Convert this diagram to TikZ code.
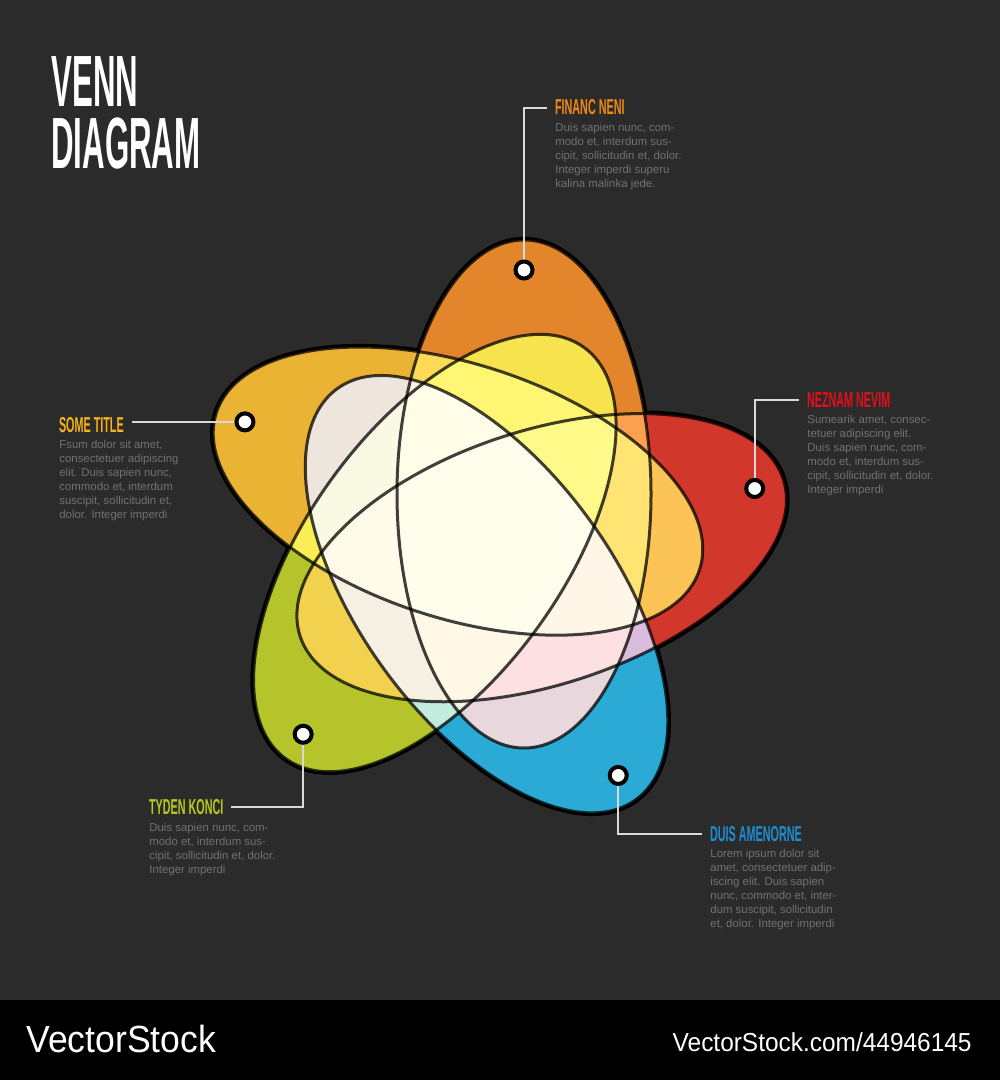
\documentclass[tikz,border=0pt]{standalone}
\usepackage{fontspec}
\setmainfont{Liberation Sans}
\newfontfamily\titlefont[FakeStretch=0.43]{Liberation Sans}
\newfontfamily\headfont[FakeStretch=0.5]{Liberation Sans}
\newfontfamily\markfont[FakeStretch=0.94]{Liberation Sans}
\usetikzlibrary{positioning}

\definecolor{bgdark}{HTML}{2B2B2B}
\definecolor{vgold}{HTML}{EAB334}
\definecolor{vorange}{HTML}{E3852B}
\definecolor{vred}{HTML}{D2372B}
\definecolor{vblue}{HTML}{2AAAD4}
\definecolor{vgreen}{HTML}{B5C42A}
\definecolor{tgold}{HTML}{F8B21C}
\definecolor{torange}{HTML}{F08A14}
\definecolor{tred}{HTML}{E2101A}
\definecolor{tblue}{HTML}{1E8DD4}
\definecolor{tgreen}{HTML}{B6C91C}
\definecolor{bodygrey}{HTML}{727272}

\begin{document}
\begin{tikzpicture}[x=0.5pt, y=0.5pt,
        body/.style={anchor=base west, inner sep=0, align=left, text=bodygrey,
            font=\fontsize{5.7pt}{7pt}\selectfont},
        head/.style={anchor=base west, inner sep=0, outer sep=4pt,
            font=\headfont\bfseries\fontsize{10.8pt}{12pt}\selectfont},
        leader/.style={draw=white!85!black, line width=1pt},
        dot/.style={draw=black, line width=2pt, fill=white}]

        % background and bottom bar
        \fill[bgdark] (0,0) rectangle (1000,-1080);
        \fill[black] (0,-1000) rectangle (1000,-1080);
        \useasboundingbox (0,0) rectangle (1000,-1080);

        % title (placed by its last line)
        \node[anchor=base west, inner sep=0, align=left, white, font=\titlefont\bfseries\fontsize{36.3pt}{31pt}\selectfont] (title) at (51,-169) {VENN\\DIAGRAM};

        % thick outer outline of the five ellipses
        \foreach \ang in {90, 18, -54, -126, 162} {
            \draw[black, line width=3.2pt, shift={(489,-538)}, rotate=\ang-90] (35,44) ellipse [x radius=127, y radius=254];
        }

        % colour fills, screen blended
        \begin{scope}[blend group=screen]
            \foreach \ang/\col in {90/vorange, 18/vred, -54/vblue, -126/vgreen, 162/vgold} {
                \fill[\col, shift={(489,-538)}, rotate=\ang-90] (35,44) ellipse [x radius=127, y radius=254];
            }
        \end{scope}

        % thin inner lines
        \foreach \ang in {90, 18, -54, -126, 162} {
            \draw[black, opacity=0.75, line width=1.5pt, shift={(489,-538)}, rotate=\ang-90] (35,44) ellipse [x radius=127, y radius=254];
        }

        % dot positions
        \foreach \ang/\nm in {90/O, 18/R, -54/B, -126/G, 162/Y} {
            \path[shift={(489,-538)}, rotate=\ang-90] (35,268) coordinate (dot\nm);
        }

        % headings
        \node[head, text=torange] (headO) at (547,-115) {FINANC NENI};
        \node[head, text=tred] (headR) at (799,-407) {NEZNAM NEVIM};
        \node[head, text=tblue] (headB) at (702,-841) {DUIS AMENORNE};
        \node[head, text=tgreen] (headG) at (141,-814) {TYDEN KONCI};
        \node[head, text=tgold] (headY) at (51,-432) {SOME TITLE};

        % body texts (placed by their last line)
        \node[body] (textO) at (555,-188) {Duis sapien nunc, com-\\modo et, interdum sus-\\cipit, sollicitudin et, dolor.\\Integer imperdi superu\\kalina malinka jede.};
        \node[body] (textR) at (807,-493) {Sumearik amet, consec-\\tetuer adipiscing elit.\\Duis sapien nunc, com-\\modo et, interdum sus-\\cipit, sollicitudin et, dolor.\\Integer imperdi};
        \node[body] (textB) at (710,-927) {Lorem ipsum dolor sit\\amet, consectetuer adip-\\iscing elit. Duis sapien\\nunc, commodo et, inter-\\dum suscipit, sollicitudin\\et, dolor. Integer imperdi};
        \node[body] (textG) at (149,-873) {Duis sapien nunc, com-\\modo et, interdum sus-\\cipit, sollicitudin et, dolor.\\Integer imperdi};
        \node[body] (textY) at (59,-518) {Fsum dolor sit amet,\\consectetuer adipiscing\\elit. Duis sapien nunc,\\commodo et, interdum\\suscipit, sollicitudin et,\\dolor. Integer imperdi};

        % leader lines
        \draw[leader] (dotO) |- (headO.west);
        \draw[leader] (dotR) |- (headR.west);
        \draw[leader] (dotB) |- (headB.west);
        \draw[leader] (dotG) |- (headG.east);
        \draw[leader] (dotY) -- (dotY -| headY.east);

        % dots
        \foreach \nm in {O, R, B, G, Y} {
            \draw[dot] (dot\nm) circle (8.5);
        }

        % watermark
        \node[anchor=base west, inner sep=0, white, font=\markfont\fontsize{18.9pt}{20pt}\selectfont] (markL) at (26,-1052) {VectorStock};
        \node[anchor=base east, inner sep=0, white, font=\markfont\fontsize{13pt}{14pt}\selectfont] (markR) at (972,-1051) {VectorStock.com/44946145};
    \end{tikzpicture}
\end{document}
